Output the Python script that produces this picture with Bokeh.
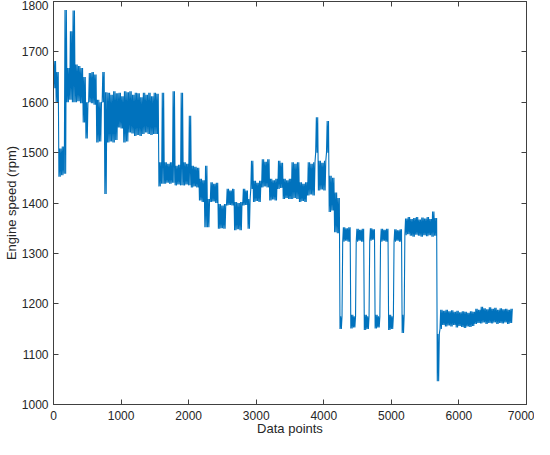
from bokeh.plotting import figure
from bokeh.models import Range1d, LinearAxis, FixedTicker
from bokeh.embed import file_html
from bokeh.resources import INLINE

# Data (envelope of the noisy engine-speed signal)
x_index = list(range(0, 6800, 40))
y_low = [
    1628, 1600, 1452, 1455, 1458, 1600, 1605, 1600, 1600, 1602, 1598, 1560, 1528,
    1600, 1598, 1595, 1520, 1522, 1600, 1418, 1520, 1522, 1520, 1525, 1550,
    1548, 1520, 1522, 1540, 1538, 1533, 1535, 1533, 1537, 1540, 1537, 1535, 1537,
    1537, 1433, 1438, 1438, 1440, 1438, 1440, 1435, 1437, 1435, 1435, 1437,
    1435, 1431, 1433, 1431, 1405, 1402, 1352, 1352, 1402, 1403, 1400, 1349, 1350,
    1349, 1395, 1396, 1395, 1346, 1348, 1346, 1395, 1396, 1349, 1428, 1402,
    1404, 1402, 1431, 1433, 1431, 1405, 1407, 1405, 1428, 1430, 1408, 1410, 1408,
    1408, 1410, 1408, 1402, 1404, 1402, 1415, 1417, 1415, 1500, 1425, 1427,
    1425, 1500, 1382, 1385, 1342, 1340, 1150, 1323, 1325, 1323, 1151, 1153, 1323,
    1325, 1323, 1148, 1150, 1325, 1327, 1151, 1153, 1323, 1325, 1323, 1148,
    1150, 1323, 1325, 1323, 1142, 1336, 1338, 1335, 1333, 1337, 1335, 1333, 1336,
    1334, 1336, 1333, 1335, 1046, 1150, 1158, 1155, 1157, 1155, 1158, 1153,
    1156, 1154, 1152, 1155, 1154, 1156, 1160, 1162, 1161, 1163, 1160, 1162, 1161,
    1163, 1160, 1162, 1161, 1163, 1160, 1162,
]
y_high = [
    1682, 1660, 1508, 1512, 1783, 1668, 1741, 1782, 1675, 1672, 1668, 1650, 1600,
    1658, 1660, 1655, 1605, 1600, 1660, 1620, 1619, 1615, 1622, 1618, 1619,
    1612, 1622, 1620, 1622, 1615, 1619, 1618, 1610, 1619, 1615, 1619, 1612, 1619,
    1617, 1481, 1619, 1481, 1478, 1481, 1622, 1474, 1476, 1619, 1481, 1478,
    1573, 1474, 1472, 1470, 1448, 1445, 1474, 1408, 1441, 1438, 1440, 1398, 1395,
    1398, 1428, 1425, 1428, 1402, 1400, 1402, 1428, 1425, 1408, 1484, 1444,
    1440, 1444, 1487, 1482, 1487, 1448, 1445, 1448, 1484, 1480, 1448, 1445, 1448,
    1481, 1478, 1481, 1441, 1438, 1441, 1481, 1478, 1481, 1570, 1484, 1480,
    1484, 1563, 1454, 1450, 1421, 1410, 1175, 1352, 1350, 1352, 1178, 1175, 1349,
    1347, 1349, 1178, 1175, 1350, 1348, 1178, 1175, 1349, 1347, 1349, 1178,
    1175, 1348, 1346, 1348, 1178, 1369, 1372, 1368, 1370, 1372, 1367, 1371, 1369,
    1372, 1368, 1383, 1370, 1140, 1188, 1186, 1188, 1185, 1187, 1184, 1186,
    1183, 1185, 1184, 1182, 1185, 1184, 1190, 1188, 1194, 1191, 1189, 1193, 1190,
    1192, 1188, 1191, 1189, 1190, 1188, 1190,
]
x_ticks = [0, 1000, 2000, 3000, 4000, 5000, 6000, 7000]
y_ticks = [1000, 1100, 1200, 1300, 1400, 1500, 1600, 1700, 1800]

# Build the trace: each sample's low and high values drawn as a dense zig-zag
xs, ys = [], []
for x, lo, hi in zip(x_index, y_low, y_high):
    xs += [x, x + 10, x + 20, x + 30]
    ys += [lo, hi, lo, hi]

AX = "#404040"
FONT = "Liberation Sans"

p = figure(width=534, height=438,
           x_range=Range1d(0, 7000), y_range=Range1d(1000, 1800),
           output_backend="svg", toolbar_location=None,
           min_border_left=44, min_border_right=8, min_border_top=1,
           min_border_bottom=32, background_fill_color="white",
           border_fill_color="white")
p.line(xs, ys, line_color="#0072BD", line_width=1.1)

p.xgrid.visible = False
p.ygrid.visible = False
p.outline_line_color = AX
p.outline_line_width = 1

for ax, ticks in ((p.xaxis[0], x_ticks), (p.yaxis[0], y_ticks)):
    ax.ticker = FixedTicker(ticks=ticks)
    ax.minor_tick_line_color = None
    ax.major_tick_in = 5
    ax.major_tick_out = 0
    ax.axis_line_color = AX
    ax.major_tick_line_color = AX
    ax.major_label_text_font = FONT
    ax.major_label_text_font_size = "12px"
    ax.major_label_text_color = "#262626"
    ax.axis_label_text_font = FONT
    ax.axis_label_text_font_size = "13px"
    ax.axis_label_text_font_style = "normal"
    ax.axis_label_text_color = "#262626"

p.xaxis.axis_label = "Data points"
p.yaxis.axis_label = "Engine speed (rpm)"
p.xaxis.major_label_standoff = 6
p.xaxis.axis_label_standoff = -2
p.yaxis.major_label_standoff = 5
p.yaxis.axis_label_standoff = 0

# Box ticks on the right and top edges: unlabeled (minor-tick only) axes
right = LinearAxis(ticker=FixedTicker(ticks=[], minor_ticks=y_ticks),
                   major_tick_line_color=None, major_tick_in=0, major_tick_out=0,
                   minor_tick_in=5, minor_tick_out=0, minor_tick_line_color=AX,
                   major_label_standoff=0, axis_line_color=AX)
top = LinearAxis(ticker=FixedTicker(ticks=[], minor_ticks=x_ticks),
                 major_tick_line_color=None, major_tick_in=0, major_tick_out=0,
                 minor_tick_in=5, minor_tick_out=0, minor_tick_line_color=AX,
                 major_label_standoff=0, axis_line_color=AX)
p.add_layout(right, "right")
p.add_layout(top, "above")

open("out.html", "w").write(file_html(p, INLINE))
